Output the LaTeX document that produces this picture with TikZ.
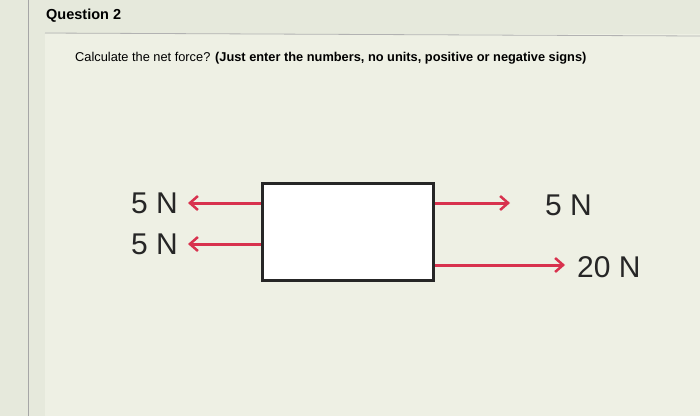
\documentclass[tikz,border=0pt]{standalone}
\usepackage{fontspec}
\setmainfont{Liberation Sans}
\usetikzlibrary{arrows.meta}
\definecolor{bg}{HTML}{E6E9DC}
\definecolor{panel}{HTML}{EEF0E4}
\definecolor{frc}{HTML}{D8324E}
\begin{document}
\begin{tikzpicture}[x=1pt,y=-1pt,
  force/.style={draw=frc,line width=3pt,-{Straight Barb[length=8pt,width=14pt,line width=2.5pt]}},
  lbl/.style={font=\fontsize{30}{30}\selectfont,text=black!85,inner sep=0pt}]
\useasboundingbox (0,0) rectangle (700,416);
\fill[bg] (0,0) rectangle (700,416);
\fill[panel] (45,34) rectangle (700,416);
\draw[gray!70,line width=0.8pt] (28,0) -- (28,416);
\draw[gray!60,line width=0.8pt] (45,33) -- (700,36);
\node[anchor=west,inner sep=0pt,font=\bfseries\fontsize{14.5}{14.5}\selectfont] (q) at (46,16) {Question 2};
\node[anchor=west,inner sep=0pt,font=\fontsize{12.8}{13}\selectfont] (t) at (75,58) {Calculate the net force? \textbf{(Just enter the numbers, no units, positive or negative signs)}};
\node[draw=black!85,line width=3pt,fill=white,minimum width=171pt,minimum height=97pt,inner sep=0pt] (box) at (347.5,231.5) {};
\coordinate (l1) at (188,203);
\coordinate (l2) at (188,244);
\coordinate (r1) at (510,203);
\coordinate (r2) at (565,265);
\draw[force] (box.west |- l1) -- (l1);
\draw[force] (box.west |- l2) -- (l2);
\draw[force] (box.east |- r1) -- (r1);
\draw[force] (box.east |- r2) -- (r2);
\node[lbl,anchor=east] (a) at (178,203) {5 N};
\node[lbl,anchor=east] (b) at (178,244) {5 N};
\node[lbl,anchor=west] (c) at (545,205) {5 N};
\node[lbl,anchor=west] (d) at (577,267) {20 N};
\end{tikzpicture}
\end{document}
